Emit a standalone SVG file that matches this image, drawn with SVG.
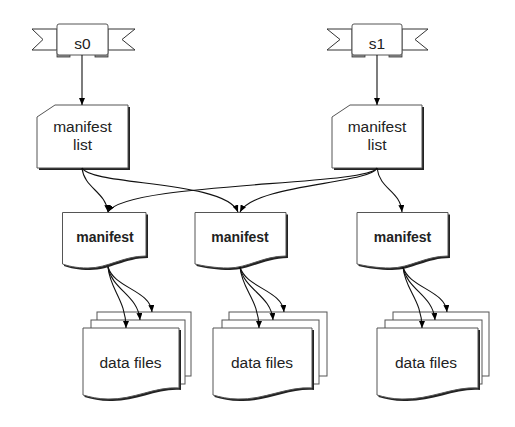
<svg xmlns="http://www.w3.org/2000/svg" width="515" height="427" viewBox="0 0 515 427">
<style>
.shape{fill:#fff;stroke:#555;stroke-width:1}
.shadow{fill:#222;stroke:none}
.tab{fill:#999;stroke:#333;stroke-width:0.8}
.wing{fill:#fff;stroke:#333;stroke-width:1}
.t{font-family:"Liberation Sans",Arial,sans-serif;font-size:15.5px;fill:#222;text-anchor:middle}
.b{font-family:"Liberation Sans",Arial,sans-serif;font-size:14px;font-weight:bold;fill:#222;text-anchor:middle}
.c{fill:none;stroke:#111;stroke-width:1.1}
</style>
<defs>
<marker id="ah" markerWidth="7" markerHeight="6" refX="7" refY="3" orient="auto" markerUnits="userSpaceOnUse">
<path d="M0,0 L7,3 L0,6 Z" fill="#000"/>
</marker>
</defs>
<rect width="515" height="427" fill="#fff"/>

<g id="s0">
<polygon class="wing" points="32,29 57,29 57,50 32,50 43,39.5"/>
<polygon class="wing" points="108,29 135,29 122,39.5 135,50 108,50"/>
<rect class="tab" x="57" y="51" width="13" height="6"/>
<rect class="tab" x="95" y="51" width="13" height="6"/>
<rect class="shape" x="57" y="24" width="51" height="31" rx="2"/>
<text class="t" x="82.5" y="49">s0</text>
</g>

<g id="s1">
<polygon class="wing" points="327,29 352,29 352,50 327,50 340,39.5"/>
<polygon class="wing" points="402,29 428,29 415,39.5 428,50 402,50"/>
<rect class="tab" x="352" y="51" width="13" height="6"/>
<rect class="tab" x="389" y="51" width="13" height="6"/>
<rect class="shape" x="352" y="24" width="50" height="31" rx="2"/>
<text class="t" x="377" y="49">s1</text>
</g>

<g id="ml0">
<path class="shadow" d="M57,107 H130 V170 H39 V119 Z"/>
<path class="shape" d="M55,105 H128 V168 H37 V117 Z"/>
<text class="t" x="82.5" y="132">manifest</text>
<text class="t" x="82.5" y="150">list</text>
</g>

<g id="ml1">
<path class="shadow" d="M352,107 H424 V170 H334 V119 Z"/>
<path class="shape" d="M350,105 H422 V168 H332 V117 Z"/>
<text class="t" x="377" y="132">manifest</text>
<text class="t" x="377" y="150">list</text>
</g>

<g id="m0">
<path class="shadow" d="M64,214.5 H148 V258 C125,258 110,270 90,270 C78,270 70,268 64,266 Z"/>
<path class="shape" d="M62.5,212.5 H146 V256 C123,256 108,268 88,268 C76,268 68,266 62.5,264 Z"/>
<text class="b" x="105" y="242">manifest</text>
</g>

<g id="m1">
<path class="shadow" d="M196.5,214.5 H288 V258 C265,258 250,270 230,270 C218,270 205,268 196.5,266 Z"/>
<path class="shape" d="M195,212.5 H286 V256 C263,256 248,268 228,268 C216,268 203,266 195,264 Z"/>
<text class="b" x="240" y="242">manifest</text>
</g>

<g id="m2">
<path class="shadow" d="M358.5,214.5 H450 V258 C427,258 412,270 392,270 C380,270 367,268 358.5,266 Z"/>
<path class="shape" d="M357,212.5 H448 V256 C425,256 410,268 390,268 C378,268 365,266 357,264 Z"/>
<text class="b" x="402.5" y="242">manifest</text>
</g>

<g id="d0">
<rect class="shape" x="97" y="312" width="94" height="64" stroke="#111"/>
<rect class="shape" x="91" y="320" width="94" height="64" stroke="#111"/>
<path class="shadow" d="M84.5,330 H181 V390 C158,388 135,402 110,401 C100,401 92,399 84.5,397 Z"/>
<path class="shape" d="M83,328 H179 V388 C156,386 133,400 108,399 C98,399 90,397 83,395 Z"/>
<text class="t" x="130.5" y="368">data files</text>
</g>

<g id="d1">
<rect class="shape" x="229" y="312" width="98" height="64" stroke="#111"/>
<rect class="shape" x="222" y="320" width="97" height="64" stroke="#111"/>
<path class="shadow" d="M214.5,330 H314 V390 C290,388 266,402 240,401 C230,401 222,399 214.5,397 Z"/>
<path class="shape" d="M213,328 H312 V388 C288,386 264,400 238,399 C228,399 220,397 213,395 Z"/>
<text class="t" x="262" y="368">data files</text>
</g>

<g id="d2">
<rect class="shape" x="393" y="312" width="96" height="64" stroke="#111"/>
<rect class="shape" x="385" y="320" width="97" height="64" stroke="#111"/>
<path class="shadow" d="M378.5,330 H480 V390 C456,388 432,402 404,401 C394,401 386,399 378.5,397 Z"/>
<path class="shape" d="M377,328 H478 V388 C454,386 430,400 402,399 C392,399 384,397 377,395 Z"/>
<text class="t" x="426" y="368">data files</text>
</g>

<g id="connectors">
<path class="c" d="M82,55 V105" marker-end="url(#ah)"/>
<path class="c" d="M377,55 V105" marker-end="url(#ah)"/>
<path class="c" d="M82,168 C84,188 106,192 108,212" marker-end="url(#ah)"/>
<path class="c" d="M82,168 C92,186 225,180 238,212" marker-end="url(#ah)"/>
<path class="c" d="M377,168 C368,186 125,182 108,212" marker-end="url(#ah)"/>
<path class="c" d="M377,168 C370,184 255,184 240,212" marker-end="url(#ah)"/>
<path class="c" d="M377,168 C380,190 400,190 402,212" marker-end="url(#ah)"/>
<path class="c" d="M108,267 C110,290 126,300 126,328" marker-end="url(#ah)"/>
<path class="c" d="M108,267 C112,290 138,295 140,320" marker-end="url(#ah)"/>
<path class="c" d="M108,267 C114,288 150,290 152,312" marker-end="url(#ah)"/>
<path class="c" d="M240,267 C242,290 259,300 259,328" marker-end="url(#ah)"/>
<path class="c" d="M240,267 C244,290 271,295 273,320" marker-end="url(#ah)"/>
<path class="c" d="M240,267 C246,288 282,290 284,312" marker-end="url(#ah)"/>
<path class="c" d="M403,267 C405,290 422,300 422,328" marker-end="url(#ah)"/>
<path class="c" d="M403,267 C407,290 433,295 435,320" marker-end="url(#ah)"/>
<path class="c" d="M403,267 C409,288 445,290 447,312" marker-end="url(#ah)"/>
</g>
</svg>
